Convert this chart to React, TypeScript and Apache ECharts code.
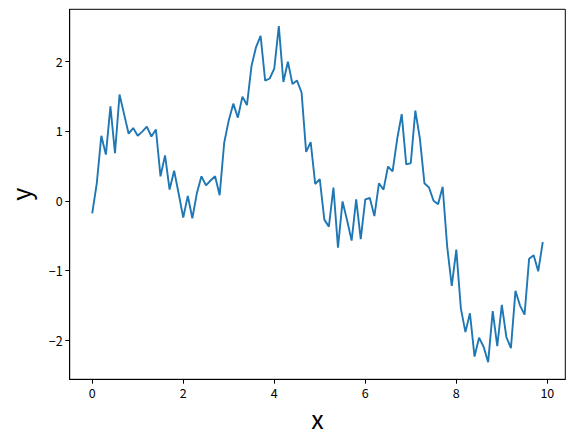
import React, { useEffect, useRef } from "react";
import * as echarts from "echarts";

const X_STEP = 0.1;
const yValues = [
  -0.18, 0.25, 0.93, 0.66, 1.35, 0.68, 1.52, 1.24, 0.96, 1.04,
  0.93, 0.99, 1.06, 0.92, 1.02, 0.35, 0.65, 0.16, 0.43, 0.1,
  -0.24, 0.07, -0.25, 0.11, 0.35, 0.22, 0.29, 0.35, 0.08, 0.83,
  1.15, 1.39, 1.19, 1.49, 1.37, 1.93, 2.2, 2.36, 1.72, 1.75,
  1.89, 2.5, 1.7, 1.99, 1.67, 1.72, 1.55, 0.7, 0.84, 0.24,
  0.31, -0.27, -0.37, 0.19, -0.67, -0.01, -0.28, -0.57, 0.02, -0.55,
  0.02, 0.04, -0.22, 0.25, 0.16, 0.49, 0.42, 0.88, 1.24, 0.52,
  0.54, 1.29, 0.89, 0.25, 0.19, 0.0, -0.05, 0.2, -0.66, -1.22,
  -0.7, -1.54, -1.88, -1.61, -2.23, -1.96, -2.09, -2.31, -1.58, -2.08,
  -1.49, -1.95, -2.11, -1.29, -1.5, -1.63, -0.83, -0.78, -1.01, -0.59,
];
const xTicks = [0, 2, 4, 6, 8, 10];
const yTicks = [-2, -1, 0, 1, 2];
const xRange = [-0.495, 10.395];
const yRange = [-2.5555, 2.7405];

const fmt = (v: number) => (v < 0 ? "\u2212" + Math.abs(v) : String(v));
const FONT = "'Noto Sans CJK JP', 'DejaVu Sans', sans-serif";

export default function App() {
  const ref = useRef<HTMLDivElement>(null);
  useEffect(() => {
    if (!ref.current) return;
    const chart = echarts.init(ref.current, undefined, { renderer: "svg" });
    const data = yValues.map((v, i) => [+(i * X_STEP).toFixed(1), v]);
    chart.setOption({
      animation: false,
      backgroundColor: "#ffffff",
      grid: {
        left: 69.7,
        right: 9.7,
        top: 9.3,
        bottom: 63.7,
        containLabel: false,
        outerBoundsMode: "none",
        show: true,
        borderColor: "#000",
        borderWidth: 1,
        backgroundColor: "transparent",
      },
      xAxis: {
        type: "value",
        min: xRange[0],
        max: xRange[1],
        name: "x",
        nameLocation: "middle",
        nameGap: 26,
        nameTextStyle: { fontSize: 25, color: "#000", fontFamily: FONT },
        axisLine: { show: true, onZero: false, lineStyle: { color: "#000", width: 1 } },
        axisTick: {
          show: true,
          length: 4.4,
          customValues: xTicks,
          lineStyle: { color: "#000", width: 1 },
        },
        axisLabel: {
          customValues: xTicks,
          formatter: fmt,
          fontSize: 12.5,
          color: "#000",
          fontFamily: FONT,
          margin: 7,
        },
        splitLine: { show: false },
      },
      yAxis: {
        type: "value",
        min: yRange[0],
        max: yRange[1],
        name: "y",
        nameLocation: "middle",
        nameGap: 37,
        nameRotate: 90,
        nameTextStyle: { fontSize: 25, color: "#000", fontFamily: FONT },
        axisLine: { show: true, onZero: false, lineStyle: { color: "#000", width: 1 } },
        axisTick: {
          show: true,
          length: 4.4,
          customValues: yTicks,
          lineStyle: { color: "#000", width: 1 },
        },
        axisLabel: {
          customValues: yTicks,
          formatter: fmt,
          fontSize: 12.5,
          color: "#000",
          fontFamily: FONT,
          margin: 7,
        },
        splitLine: { show: false },
      },
      series: [
        {
          type: "line",
          data,
          showSymbol: false,
          symbol: "none",
          lineStyle: { color: "#1f77b4", width: 1.9 },
          itemStyle: { color: "#1f77b4" },
        },
      ],
    });
    return () => chart.dispose();
  }, []);
  return (
    <div
      ref={ref}
      style={{ position: "fixed", left: 0, top: 0, width: 575, height: 443, background: "#fff" }}
    />
  );
}
